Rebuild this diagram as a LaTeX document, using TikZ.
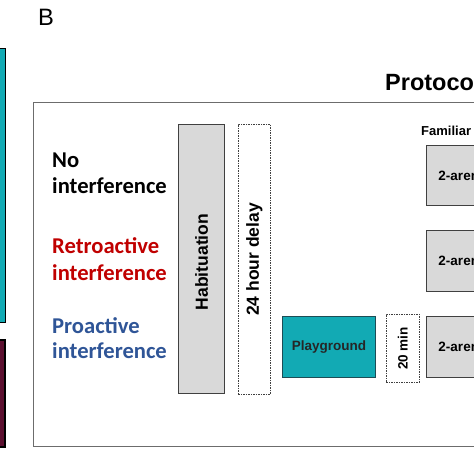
\documentclass[tikz,border=0pt]{standalone}
\usepackage{fontspec}
\setmainfont{Liberation Sans}
\newfontfamily\calib{Carlito}
\usetikzlibrary{positioning}

\definecolor{teal1}{HTML}{12AAB4}
\definecolor{tealdark}{HTML}{1D4D55}
\definecolor{maroon1}{HTML}{5C1030}
\definecolor{grayfill}{HTML}{D9D9D9}
\definecolor{grayline}{HTML}{404040}
\definecolor{retrored}{HTML}{C00000}
\definecolor{problue}{HTML}{2F5597}

\tikzset{
	stage/.style={draw=grayline, fill=grayfill, line width=1pt, inner sep=0pt, anchor=north west},
	delay/.style={draw=grayline, dash pattern=on 1.5pt off 1pt, line width=0.8pt, inner sep=0pt, anchor=north west},
	play/.style={draw=tealdark, fill=teal1, line width=1pt, inner sep=0pt, anchor=north west},
	boxtext/.style={font=\bfseries\fontsize{17.5}{20}\selectfont},
	smalltext/.style={font=\bfseries\fontsize{13.5}{16}\selectfont},
	cond/.style={font=\calib\bfseries\fontsize{22.6}{26}\selectfont, inner sep=0pt, anchor=base west}
}

\begin{document}
\begin{tikzpicture}[x=1pt,y=-1pt]
	\useasboundingbox (0,0) rectangle (474,474);
	\clip (0,0) rectangle (474,474);

	%edges of panel A
	\draw[fill=teal1, draw=black, line width=1pt] (-5,48) rectangle (5,322);
	\draw[fill=maroon1, draw=black, line width=1.2pt] (-5,340) rectangle (5,447);

	%panel letter and title
	\node[font=\fontsize{23.7}{28}\selectfont, inner sep=0pt, anchor=base west] (panel) at (38,25) {B};
	\node[font=\bfseries\fontsize{23.5}{27}\selectfont, inner sep=0pt, anchor=base west] (title) at (385,90) {Protocol};

	%outer frame
	\draw[draw=gray!85!black, line width=1pt] (33,102) rectangle (495,446);

	%conditions
	\node[cond] (none) at (52,167) {No};
	\node[cond] (nonei) at (52,193) {interference};
	\node[cond, text=retrored] (retro) at (52,253) {Retroactive};
	\node[cond, text=retrored] (retroi) at (52,280) {interference};
	\node[cond, text=problue] (pro) at (52,333) {Proactive};
	\node[cond, text=problue] (proi) at (52,358) {interference};

	%habituation and delay
	\node[stage, minimum width=46pt, minimum height=269pt] (habit) at (178,124) {};
	\node[boxtext, rotate=90] at ([yshift=-3pt]habit.center) {Habituation};
	\node[delay, minimum width=32pt, minimum height=270pt] (day) at (238,124) {};
	\node[boxtext, rotate=90] at (day.center) {24 hour delay};

	%playground and short delay
	\node[play, minimum width=93pt, minimum height=61pt] (playg) at (282,316) {};
	\node[smalltext, text=black!85] at (playg.center) {Playground};
	\node[delay, minimum width=33pt, minimum height=68pt] (short) at (386,314) {};
	\node[smalltext, rotate=90] at (short.center) {20 min};

	%test arenas
	\node[font=\bfseries\fontsize{13}{15}\selectfont, inner sep=0pt, anchor=base west] (famil) at (421,135) {Familiar};
	\foreach \y/\h [count=\i] in {145/60, 230/61, 316/61} {
		\node[stage, minimum width=72pt, minimum height=\h pt] (arena\i) at (426,\y) {};
		\node[smalltext] at (arena\i.center) {2-arena};
	}
\end{tikzpicture}
\end{document}
